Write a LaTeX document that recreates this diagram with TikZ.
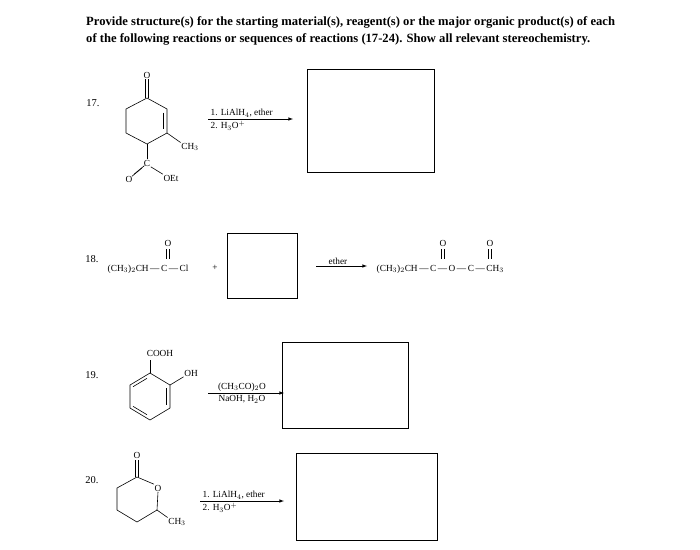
\documentclass[tikz,border=0pt]{standalone}
\usepackage{fontspec}
\setmainfont{Liberation Serif}
\usetikzlibrary{calc}
\begin{document}
\begin{tikzpicture}[x=1pt,y=-1pt,
 lbl/.style={inner sep=0.5pt,font=\fontsize{9.3}{10}\selectfont},
 num/.style={inner sep=0pt,font=\fontsize{10.5}{11}\selectfont},
 ansbox/.style={draw,line width=0.7pt},
 bond/.style={line width=0.6pt},
 rxn/.style={line width=0.6pt,-latex}]
\useasboundingbox (0,0) rectangle (700,549);
\node[anchor=west,inner sep=0,font=\fontsize{12.6}{17}\selectfont\bfseries,align=left] (title) at (86,31)
 {Provide structure(s) for the starting material(s), reagent(s) or the major organic product(s) of each\\of the following reactions or sequences of reactions (17-24). Show all relevant stereochemistry.};
% 17
\node[num] (n17) at (93,103) {17.};
\coordinate (a1) at (147,98); \coordinate (a2) at (167,109); \coordinate (a3) at (167,133);
\coordinate (a4) at (147,144); \coordinate (a5) at (126,133); \coordinate (a6) at (126,109);
\node[lbl] (o17) at (147,75) {O};
\draw[bond] (a1)--(a2)--(a3)--(a4)--(a5)--(a6)--(a1);
\draw[bond] ($(a2)!0.15!(a3)+(-3.5,0)$)--($(a3)!0.15!(a2)+(-3.5,0)$);
\draw[bond] ([xshift=-1.5]a1)--([xshift=-1.5]o17.south) ([xshift=1.5]a1)--([xshift=1.5]o17.south);
\node[lbl] (me17) at (190,147) {CH$_3$};
\draw[bond] (a3)--(me17.north west);
\node[lbl] (c17) at (147,163) {C};
\draw[bond] (a4)--(c17);
\node[lbl] (od17) at (129,179) {O};
\node[lbl] (oet) at (171,178) {OEt};
\draw[bond] ([xshift=-1.2,yshift=-1.2]c17.south west)--([xshift=-1.2,yshift=-1.2]od17.north east)
 ([xshift=1.2,yshift=1.2]c17.south west)--([xshift=1.2,yshift=1.2]od17.north east);
\draw[bond] (c17.south east)--(oet.north west);
\coordinate (s17) at (208,119); \coordinate (e17) at (293,119);
\draw[rxn] (s17)--(e17);
\node[lbl,anchor=south west] (r17a) at (210,118) {1. LiAlH$_4$, ether};
\node[lbl,anchor=north west] (r17b) at (210,120) {2. H$_3$O$^+$};
\node[ansbox,minimum width=127,minimum height=103,anchor=north west] (b17) at (307,69) {};
% 18
\node[num] (n18) at (92,259) {18.};
\node[lbl,anchor=base west] (t18) at (107,271) {(CH$_3$)$_2$CH\,---\,C\,---\,Cl};
\node[lbl] (o18) at (168,243) {O};
\draw[bond] (166.6,249)--(166.6,259) (169.4,249)--(169.4,259);
\node[lbl] (plus) at (215,268) {+};
\node[ansbox,minimum width=70,minimum height=65,anchor=north west] (b18) at (227,233) {};
\draw[rxn] (316,266)--(367,266);
\node[lbl,anchor=south] (eth) at (338,265) {ether};
\node[lbl,anchor=base west] (t18p) at (376,271) {(CH$_3$)$_2$CH\,---\,C\,---\,O\,---\,C\,---\,CH$_3$};
\node[lbl] (o18b) at (443,243) {O};
\node[lbl] (o18c) at (490,243) {O};
\draw[bond] (441.6,249)--(441.6,259) (444.4,249)--(444.4,259) (488.6,249)--(488.6,259) (491.4,249)--(491.4,259);
% 19
\node[num] (n19) at (92,375) {19.};
\coordinate (b1) at (150,373); \coordinate (b2) at (170,385); \coordinate (b3) at (170,408);
\coordinate (b4) at (150,420); \coordinate (b5) at (130,408); \coordinate (b6) at (130,385);
\draw[bond] (b1)--(b2)--(b3)--(b4)--(b5)--(b6)--cycle;
\draw[bond] ($(b1)!0.15!(b6)+(0,3.5)$)--($(b6)!0.15!(b1)+(0,3.5)$);
\draw[bond] ($(b2)!0.15!(b3)+(-3.5,0)$)--($(b3)!0.15!(b2)+(-3.5,0)$);
\draw[bond] ($(b4)!0.15!(b5)+(0,-3.5)$)--($(b5)!0.15!(b4)+(0,-3.5)$);
\node[lbl] (cooh) at (160,353) {COOH};
\draw[bond] (b1)--(150,360);
\node[lbl] (oh) at (191,373) {OH};
\draw[bond] (b2)--(oh.south west);
\draw[rxn] (208,393)--(284,393);
\node[lbl,anchor=south] (r19a) at (242,392) {(CH$_3$CO)$_2$O};
\node[lbl,anchor=north] (r19b) at (242,395) {NaOH, H$_2$O};
\node[ansbox,minimum width=126,minimum height=86,anchor=north west] (b19) at (282,342) {};
% 20
\node[num] (n20) at (92,480) {20.};
\coordinate (c1) at (137,477); \coordinate (c3) at (157,510); \coordinate (c4) at (137,522);
\coordinate (c5) at (117,510); \coordinate (c6) at (117,488);
\node[lbl] (or20) at (158,488) {O};
\node[lbl] (o20) at (137,455) {O};
\draw[bond] (c1)--(or20.north west) (or20.south)--(c3)--(c4)--(c5)--(c6)--(c1);
\draw[bond] (135.5,477)--(135.5,460) (138.5,477)--(138.5,460);
\node[lbl] (me20) at (177,522) {CH$_3$};
\draw[bond] (c3)--(me20.north west);
\draw[rxn] (200,501)--(284,501);
\node[lbl,anchor=south west] (r20a) at (202,500) {1. LiAlH$_4$, ether};
\node[lbl,anchor=north west] (r20b) at (202,502) {2. H$_3$O$^+$};
\node[ansbox,minimum width=141,minimum height=87,anchor=north west] (b20) at (296,453) {};
\end{tikzpicture}
\end{document}
